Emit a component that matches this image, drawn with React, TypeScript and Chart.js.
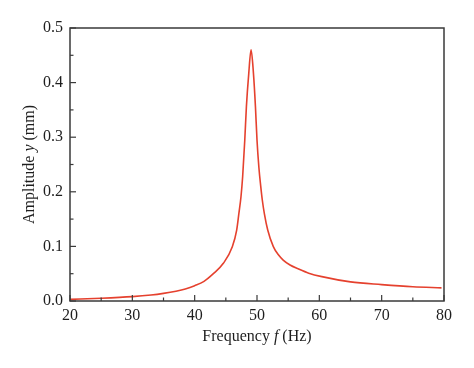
import React, { useEffect, useRef } from "react";
import { Chart, registerables } from "chart.js";

Chart.register(...registerables);

const frequency = [20, 25, 30, 33, 35, 37, 38.5, 40, 41.5, 43, 44.6, 46.04, 46.74, 47.1, 47.43, 47.7, 48.04, 48.3, 48.68, 49.05, 49.43, 49.75, 50.0, 50.3, 50.6, 50.85, 51.18, 51.72, 52.62, 53.4, 54.2, 55.3, 56.6, 58.3, 60.4, 65, 70, 75, 79.6];
const amplitude = [0.003, 0.005, 0.008, 0.011, 0.014, 0.018, 0.022, 0.028, 0.036, 0.050, 0.069, 0.0995, 0.130, 0.161, 0.191, 0.228, 0.295, 0.356, 0.417, 0.460, 0.417, 0.356, 0.295, 0.245, 0.210, 0.185, 0.160, 0.130, 0.0995, 0.085, 0.075, 0.066, 0.059, 0.051, 0.0446, 0.035, 0.030, 0.026, 0.024];

const xTicks = [20, 30, 40, 50, 60, 70, 80];
const yTicks = [0.0, 0.1, 0.2, 0.3, 0.4, 0.5];

const SERIF = "'Liberation Serif', 'DejaVu Serif', serif";

const framePlugin = {
  id: "frameAndTitles",
  afterDraw(chart: any) {
    const { ctx, chartArea: a, scales } = chart;
    const xs = scales.x;
    const ys = scales.y;
    ctx.save();
    ctx.strokeStyle = "#3a3a3a";
    ctx.lineWidth = 1.5;
    ctx.strokeRect(a.left, a.top, a.right - a.left, a.bottom - a.top);
    ctx.lineWidth = 1.2;
    for (let v = xs.min; v <= xs.max + 1e-9; v += 5) {
      const px = xs.getPixelForValue(v);
      const major = Math.abs(v % 10) < 1e-6;
      const len = major ? 6 : 3.5;
      ctx.beginPath();
      ctx.moveTo(px, a.bottom);
      ctx.lineTo(px, a.bottom - len);
      ctx.stroke();
    }
    for (let i = 0; i <= 10; i++) {
      const v = ys.min + i * 0.05;
      const py = ys.getPixelForValue(v);
      const len = i % 2 === 0 ? 6 : 3.5;
      ctx.beginPath();
      ctx.moveTo(a.left, py);
      ctx.lineTo(a.left + len, py);
      ctx.stroke();
    }
    ctx.fillStyle = "#1e1e1e";
    ctx.textBaseline = "middle";
    const xParts = [
      { t: "Frequency ", f: `16px ${SERIF}` },
      { t: "f", f: `italic 16px ${SERIF}` },
      { t: " (Hz)", f: `16px ${SERIF}` },
    ];
    let total = 0;
    for (const p of xParts) { ctx.font = p.f; total += ctx.measureText(p.t).width; }
    let x = (a.left + a.right) / 2 - total / 2;
    const ty = 337;
    ctx.textAlign = "left";
    for (const p of xParts) { ctx.font = p.f; ctx.fillText(p.t, x, ty); x += ctx.measureText(p.t).width; }
    const yParts = [
      { t: "Amplitude ", f: `16px ${SERIF}` },
      { t: "y", f: `italic 16px ${SERIF}` },
      { t: " (mm)", f: `16px ${SERIF}` },
    ];
    total = 0;
    for (const p of yParts) { ctx.font = p.f; total += ctx.measureText(p.t).width; }
    ctx.translate(30, (a.top + a.bottom) / 2);
    ctx.rotate(-Math.PI / 2);
    let yx = -total / 2;
    for (const p of yParts) { ctx.font = p.f; ctx.fillText(p.t, yx, 0); yx += ctx.measureText(p.t).width; }
    ctx.restore();
  },
};

export default function App() {
  const ref = useRef<HTMLCanvasElement>(null);
  useEffect(() => {
    document.body.style.margin = "0";
    const chart = new Chart(ref.current!, {
      type: "line",
      data: {
        datasets: [
          {
            data: frequency.map((f, i) => ({ x: f, y: amplitude[i] })),
            borderColor: "#e5412e",
            borderWidth: 1.6,
            pointRadius: 0,
            cubicInterpolationMode: "monotone",
            fill: false,
          },
        ],
      },
      options: {
        animation: false,
        responsive: false,
        maintainAspectRatio: false,
        layout: { padding: { left: 0, top: 28, right: 30, bottom: 0 } },
        plugins: { legend: { display: false }, tooltip: { enabled: false } },
        scales: {
          x: {
            type: "linear",
            min: 20,
            max: 80,
            afterFit: (s: any) => { s.height = 67; },
            afterBuildTicks: (s: any) => { s.ticks = xTicks.map((v) => ({ value: v })); },
            grid: { display: false, drawTicks: false },
            border: { display: false },
            ticks: {
              padding: 5,
              color: "#1e1e1e",
              font: { family: SERIF, size: 16 },
              maxRotation: 0,
              callback: (v: any) => String(v),
            },
          },
          y: {
            type: "linear",
            min: 0,
            max: 0.5,
            afterFit: (s: any) => { s.width = 70; },
            afterBuildTicks: (s: any) => { s.ticks = yTicks.map((v) => ({ value: v })); },
            grid: { display: false, drawTicks: false },
            border: { display: false },
            ticks: {
              padding: 7,
              color: "#1e1e1e",
              font: { family: SERIF, size: 16 },
              callback: (v: any) => Number(v).toFixed(1),
            },
          },
        },
      },
      plugins: [framePlugin],
    });
    return () => chart.destroy();
  }, []);
  return (
    <div style={{ position: "absolute", left: 0, top: 0, width: 474, height: 368, background: "#fff" }}>
      <canvas ref={ref} width={474} height={368} style={{ width: 474, height: 368 }} />
    </div>
  );
}
